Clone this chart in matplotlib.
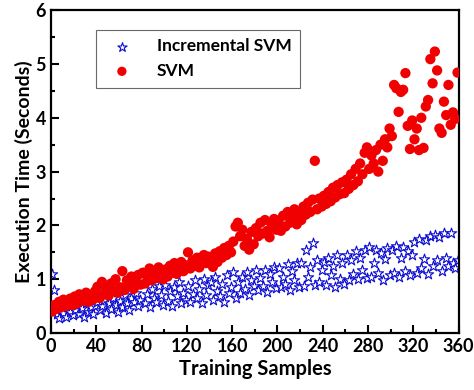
import numpy as np
import matplotlib.pyplot as plt
from matplotlib.ticker import MultipleLocator

# ======== DATOS ========
# muestras de entrenamiento (paso de 2)
samples = np.arange(1, 361, 2)

# tiempo SVM (s)
svm_time = [
    0.40, 0.52, 0.45, 0.58, 0.48, 0.62, 0.50, 0.56, 0.64, 0.52,
    0.68, 0.55, 0.72, 0.60, 0.66, 0.75, 0.58, 0.70, 0.62, 0.78,
    0.86, 0.65, 0.95, 0.72, 0.82, 0.70, 0.92, 0.78, 1.00, 0.75,
    0.85, 1.15, 0.80, 0.98, 0.88, 1.05, 0.82, 0.95, 1.08, 0.90,
    1.12, 0.92, 1.05, 1.20, 0.98, 1.15, 1.02, 1.22, 1.08, 1.00,
    1.18, 1.05, 1.25, 1.12, 1.30, 1.10, 1.22, 1.32, 1.15, 1.26,
    1.50, 1.20, 1.35, 1.25, 1.40, 1.22, 1.36, 1.45, 1.30, 1.42,
    1.35, 1.23, 1.48, 1.32, 1.52, 1.40, 1.58, 1.45, 1.62, 1.50,
    1.70, 1.98, 2.05, 1.80, 1.92, 1.62, 1.75, 1.55, 1.88, 1.65,
    1.95, 1.80, 2.05, 1.85, 2.10, 1.90, 1.78, 2.02, 2.12, 1.92,
    2.05, 1.90, 2.18, 1.98, 2.25, 2.05, 2.15, 2.30, 2.02, 2.22,
    2.10, 2.35, 2.20, 2.42, 2.25, 2.48, 3.20, 2.30, 2.50, 2.35,
    2.55, 2.40, 2.62, 2.45, 2.70, 2.52, 2.75, 2.58, 2.80, 2.60,
    2.85, 2.68, 2.95, 2.75, 3.05, 2.82, 3.15, 2.95, 3.35, 3.45,
    3.05, 3.30, 3.15, 3.40, 3.00, 3.50, 3.20, 3.60, 3.45, 3.80,
    3.66, 4.61, 4.55, 4.11, 4.48, 4.52, 4.83, 3.85, 3.42, 3.95,
    3.60, 3.80, 3.40, 4.00, 3.44, 4.21, 4.33, 5.09, 4.64, 5.23,
    4.88, 3.80, 3.72, 4.30, 4.05, 4.61, 3.87, 4.10, 3.98, 4.84,
]

# tiempo SVM incremental (s)
inc_time = [
    1.10, 0.80, 0.35, 0.28, 0.45, 0.38, 0.30, 0.48, 0.40, 0.33,
    0.42, 0.52, 0.36, 0.46, 0.30, 0.55, 0.40, 0.48, 0.35, 0.50,
    0.58, 0.42, 0.50, 0.62, 0.38, 0.55, 0.45, 0.65, 0.52, 0.40,
    0.60, 0.48, 0.70, 0.55, 0.42, 0.66, 0.58, 0.75, 0.50, 0.62,
    1.12, 0.55, 0.72, 0.48, 0.82, 0.65, 0.58, 0.88, 0.70, 0.52,
    0.90, 0.60, 0.78, 0.50, 0.85, 0.68, 0.95, 0.55, 0.75, 0.62,
    0.88, 0.58, 0.72, 0.98, 0.65, 0.82, 0.55, 1.00, 0.70, 0.90,
    0.95, 0.62, 1.05, 0.78, 0.68, 0.92, 0.58, 1.08, 0.75, 0.85,
    1.14, 0.66, 0.95, 0.75, 1.05, 0.82, 1.14, 0.70, 0.98, 0.88,
    1.17, 0.80, 1.02, 0.88, 1.17, 0.76, 1.10, 0.95, 1.22, 0.84,
    1.20, 0.86, 1.05, 0.92, 1.28, 0.80, 1.15, 0.98, 1.30, 0.85,
    1.30, 0.88, 1.54, 1.05, 1.22, 1.68, 0.90, 1.35, 0.95, 1.18,
    1.32, 0.90, 1.40, 1.08, 1.25, 0.85, 1.45, 1.00, 1.30, 0.92,
    1.45, 0.98, 1.35, 1.10, 1.52, 1.00, 1.40, 1.18, 1.55, 1.02,
    1.60, 1.05, 1.30, 1.55, 1.12, 1.48, 0.98, 1.38, 1.58, 1.08,
    1.55, 1.12, 1.62, 1.05, 1.40, 1.60, 1.15, 1.52, 1.08, 1.45,
    1.70, 1.12, 1.75, 1.20, 1.38, 1.72, 1.10, 1.80, 1.25, 1.82,
    1.35, 1.78, 1.15, 1.85, 1.40, 1.25, 1.86, 1.30, 1.20, 1.35,
]

# ======== GRÁFICO ========
plt.rcParams['font.family'] = ['Lato', 'DejaVu Sans']
plt.rcParams['font.weight'] = 'bold'

fig = plt.figure(figsize=(4.74, 3.90), dpi=100)
ax = fig.add_axes([0.1076, 0.146, 0.86, 0.828])

ax.scatter(samples, inc_time, marker='*', s=60, facecolors='white',
           edgecolors='#0a0ad2', linewidths=0.8, label='Incremental SVM', zorder=2)
ax.scatter(samples, svm_time, marker='o', s=55, color='#f00000',
           edgecolors='none', label='SVM', zorder=3)

ax.set_xlim(0, 360)
ax.set_ylim(0, 6)
ax.xaxis.set_major_locator(MultipleLocator(40))
ax.xaxis.set_minor_locator(MultipleLocator(20))
ax.yaxis.set_major_locator(MultipleLocator(1))
ax.yaxis.set_minor_locator(MultipleLocator(0.5))
ax.tick_params(which='both', direction='in', width=1.5, labelsize=13)
ax.tick_params(which='major', length=6)
ax.tick_params(which='minor', length=3)
for sp in ax.spines.values():
    sp.set_linewidth(1.6)

ax.set_xlabel('Training Samples', fontsize=14.5, fontweight='bold', labelpad=3)
ax.set_ylabel('Execution Time (Seconds)', fontsize=14, fontweight='bold', labelpad=2)

leg = ax.legend(loc='upper left', bbox_to_anchor=(0.11, 0.94), fontsize=12.5,
                frameon=True, fancybox=False, edgecolor='#444444',
                handletextpad=1.0, borderpad=0.5, labelspacing=0.5,
                markerscale=0.9, borderaxespad=0)
leg.get_frame().set_linewidth(0.8)

fig.savefig('out.png', dpi=100)
